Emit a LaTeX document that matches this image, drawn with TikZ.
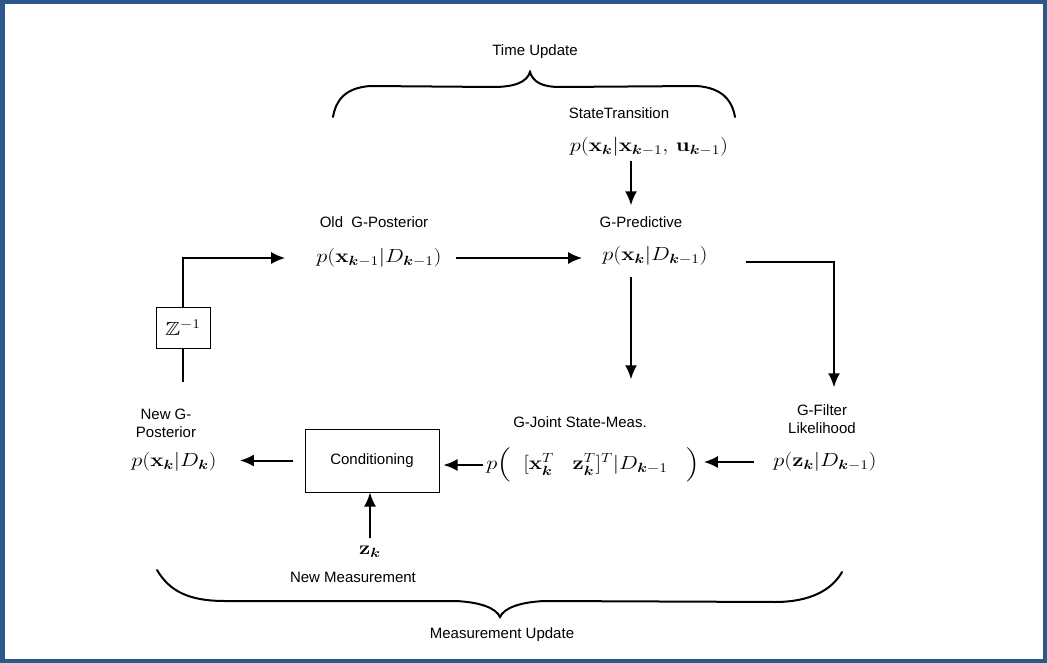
\RequirePackage{fix-cm}
\documentclass[tikz,border=0pt]{standalone}
\usepackage[no-math]{fontspec}
\setsansfont{Liberation Sans}
\usepackage{graphicx}
\usepackage{amsmath,amssymb,bm}
\usetikzlibrary{arrows.meta}
\definecolor{framebl}{RGB}{44,88,138}
\tikzstyle{lbl}=[font=\sffamily\fontsize{15}{18}\selectfont, align=center, inner sep=1pt]
\tikzstyle{expr}=[font=\fontsize{19}{22}\selectfont, inner sep=1pt]
\tikzstyle{blk}=[draw, line width=1pt, font=\sffamily\fontsize{15}{18}\selectfont, inner sep=0pt]
\tikzstyle{arr}=[line width=2pt, -{Latex[length=14pt,width=12pt]}]
\tikzstyle{wire}=[line width=2pt]
\tikzstyle{brace}=[line width=2pt, line cap=round]
\newcommand{\bk}{\bm{k}}
\newcommand{\wide}[1]{\scalebox{1.18}[1]{$#1$}}

\begin{document}
\begin{tikzpicture}[x=1pt, y=-1pt]
\useasboundingbox (0,0) rectangle (1047,663);
% Frame
    \draw[framebl, line width=4.5pt] (2.25,2.25) rectangle (1044.75,660.75);
% Columns for the vertical arrows
    \coordinate (col) at (631,0);
    \coordinate (col2) at (834,0);
% Time update
    \node[lbl] (timelbl) at (535,52) {Time Update};
    \node[lbl] (stlbl) at (619,113) {StateTransition};
    \node[expr] (st) at (649,147) {\wide{p(\mathbf{x}_{\bk}|\mathbf{x}_{\bk-1},\,\mathbf{u}_{\bk-1})}};
    \node[lbl] (oldlbl) at (374,222) {Old\ \ G-Posterior};
    \node[expr] (old) at (379,258) {\wide{p(\mathbf{x}_{\bk-1}|D_{\bk-1})}};
    \node[lbl] (predlbl) at (641,222) {G-Predictive};
    \node[expr] (pred) at (655,256) {\wide{p(\mathbf{x}_{\bk}|D_{\bk-1})}};
% Measurement update
    \node[blk, font=\fontsize{19}{22}\selectfont, minimum width=54pt, minimum height=41pt] (zinv) at (183,327.5) {\wide{\mathbb{Z}^{-1}}};
    \node[lbl] (newlbl) at (166,423) {New G-\\Posterior};
    \node[expr] (new) at (174,462) {\wide{p(\mathbf{x}_{\bk}|D_{\bk})}};
    \node[blk, minimum width=134pt, minimum height=63pt] (cond) at (372,460.5) {Conditioning};
    \node[expr] (zk) at (370,552) {\wide{\mathbf{z}_{\bk}}};
    \node[lbl] (newmeas) at (353,577) {New Measurement};
    \node[lbl] (jointlbl) at (580,422) {G-Joint State-Meas.};
    \node[expr] (joint) at (593,465) {\wide{p\Big(\;\;[\mathbf{x}_{\bk}^T\;\;\;\mathbf{z}_{\bk}^T]^T|D_{\bk-1}\;\;\;\Big)}};
    \node[lbl] (likelbl) at (822,419) {G-Filter\\Likelihood};
    \node[expr] (like) at (825,462) {\wide{p(\mathbf{z}_{\bk}|D_{\bk-1})}};
    \node[lbl] (measlbl) at (502,635) {Measurement Update};
% Arrows
    \draw[arr, shorten <=3pt, shorten >=10pt] (st.south -| col) -- (predlbl.north -| col);
    \draw[arr, shorten <=13pt, shorten >=19pt] (old.east) -- (old.east -| pred.west);
    \draw[arr, shorten <=10pt, shorten >=36pt] (pred.south -| col) -- (jointlbl.north -| col);
    \draw[arr, shorten <=37pt, shorten >=16pt] ([yshift=-6pt]pred.east) -| (likelbl.north -| col2);
    \draw[arr, shorten <=18pt, shorten >=3pt] (like.west) -- (like.west -| joint.east);
    \draw[arr, shorten <=2pt, shorten >=4pt] (joint.west) -- (joint.west -| cond.east);
    \draw[arr, shorten <=12pt, shorten >=22pt] (cond.west) -- (cond.west -| new.east);
    \draw[arr, shorten <=7pt] (zk.north) -- (zk.north |- cond.south);
    \draw[wire, shorten >=25pt] (zinv.south) -- (zinv.south |- newlbl.north);
    \draw[arr, shorten >=30pt] (zinv.north) |- (old.west);
% Braces
    \draw[brace] (333,117) .. controls (336,100) and (345,88) .. (370,86) -- (493,87)
        .. controls (515,87) and (527,82) .. (530,72) .. controls (533,82) and (542,87) .. (560,87)
        -- (697,86) .. controls (722,88) and (732,100) .. (735,117);
    \draw[brace] (157,570) .. controls (170,592) and (190,601) .. (225,601) -- (455,601)
        .. controls (480,602) and (496,608) .. (500,617) .. controls (504,608) and (520,602) .. (545,601)
        -- (775,602) .. controls (810,602) and (832,590) .. (842,572);
\end{tikzpicture}
\end{document}
